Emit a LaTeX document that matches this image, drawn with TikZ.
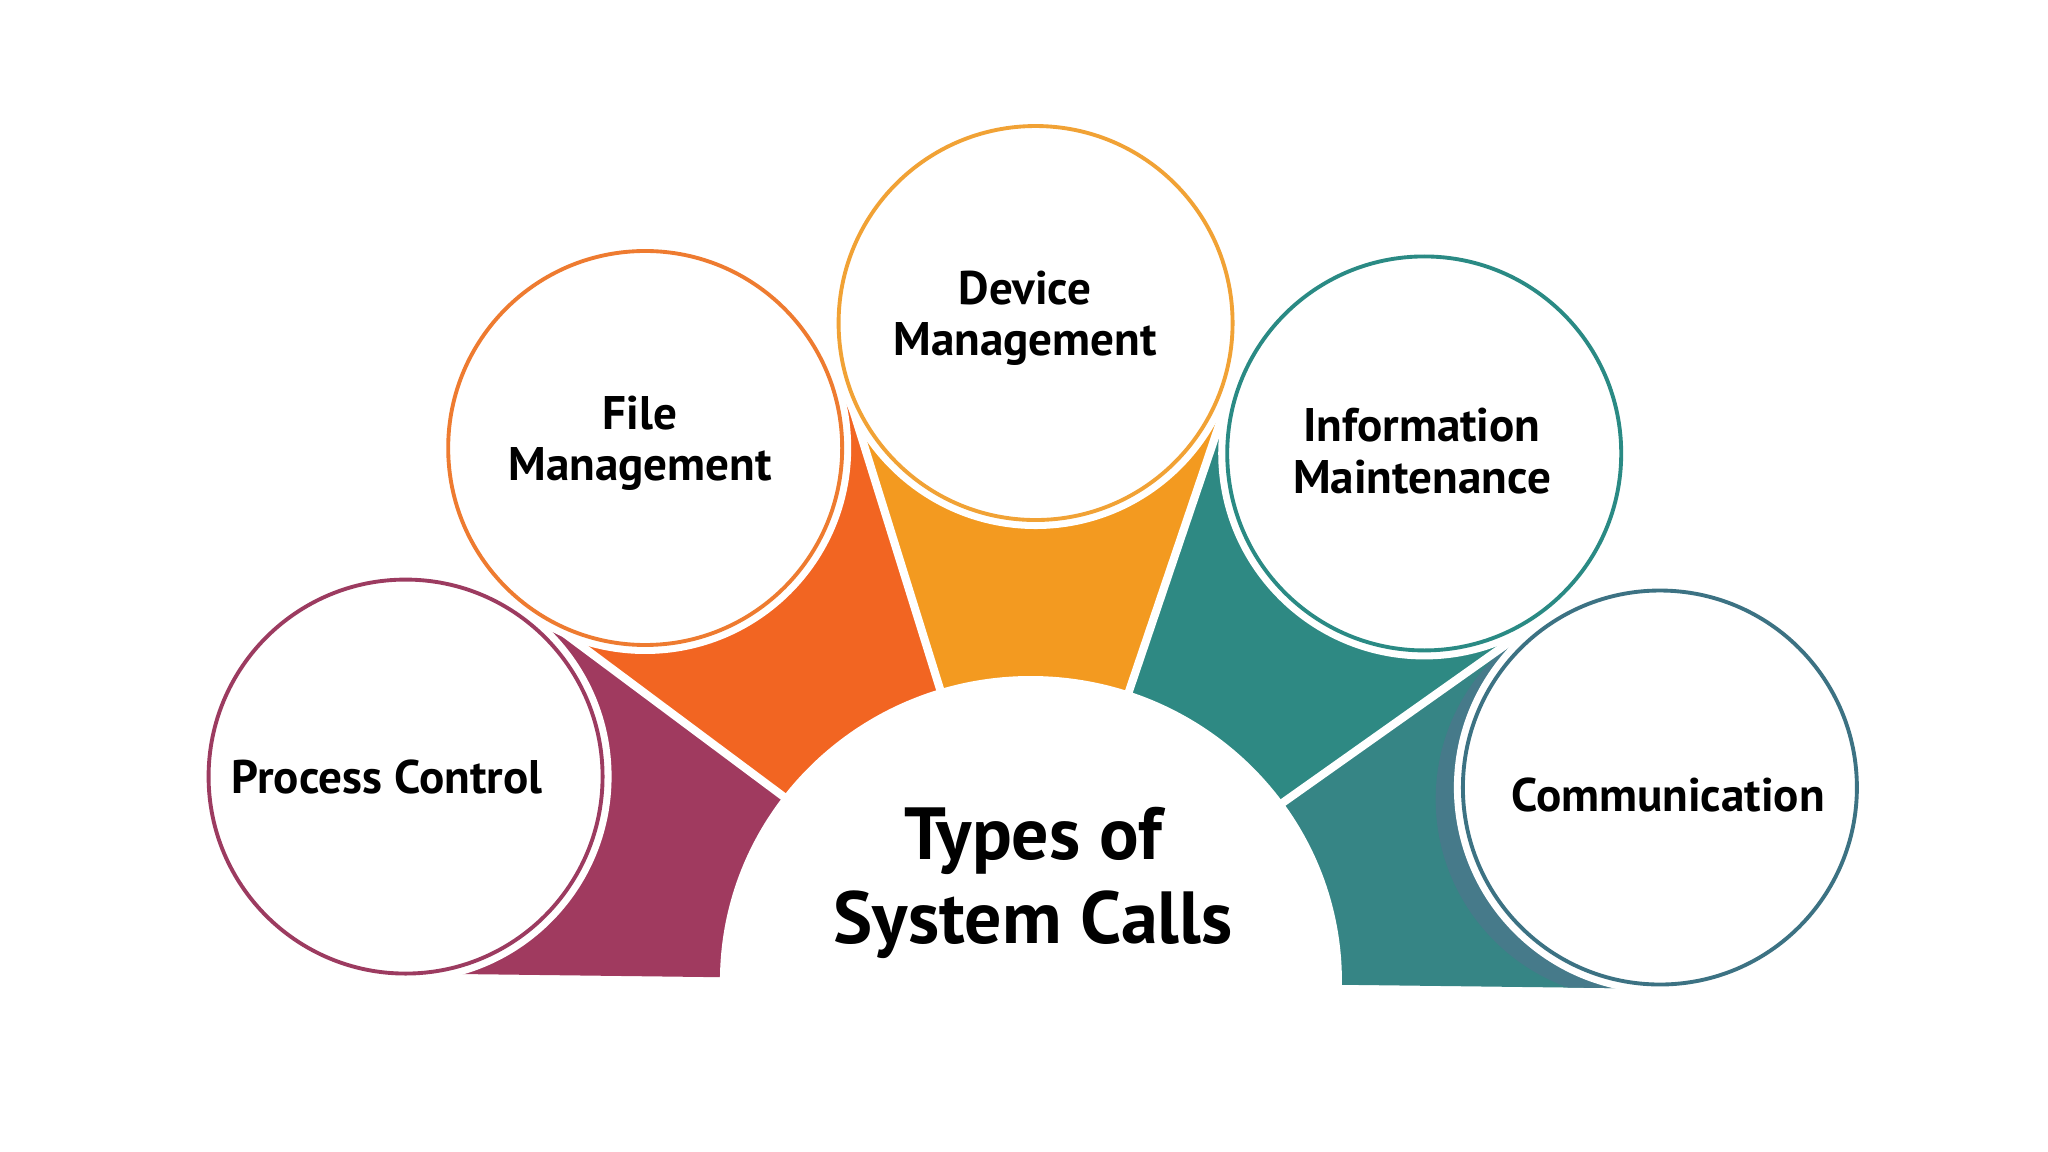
\documentclass[tikz,border=0pt]{standalone}
\usepackage{fontspec}
\setmainfont{PT Sans}
\definecolor{procS}{HTML}{A03A5F}
\definecolor{procL}{HTML}{9C3B60}
\definecolor{fileS}{HTML}{F26522}
\definecolor{fileL}{HTML}{EE7B30}
\definecolor{devS}{HTML}{F39A20}
\definecolor{devL}{HTML}{F1A235}
\definecolor{infoS}{HTML}{2E8983}
\definecolor{infoL}{HTML}{2A8A84}
\definecolor{commS}{HTML}{368585}
\definecolor{commShade}{HTML}{467A8A}
\definecolor{commL}{HTML}{3C7283}
\tikzset{
  lbl/.style={font=\fontsize{13.4}{14.6}\selectfont\bfseries, align=center, text=black},
  ttl/.style={font=\fontsize{21}{23.8}\selectfont\bfseries, align=center, text=black},
  sepline/.style={white, line width=2.3pt},
  ring/.style={line width=1.1pt, fill=white}
}
\begin{document}
\begin{tikzpicture}[x=0.01cm,y=0.01cm]
\useasboundingbox (0,0) rectangle (2048,1152);
\fill[white] (0,0) rectangle (2048,1152);
\coordinate (C) at (1031,171);
\path (C) ++(161.9:658) coordinate (cPC);
\path (C) ++(125.9:658) coordinate (cFM);
\path (C) ++(89.6:658) coordinate (cDM);
\path (C) ++(53.3:658) coordinate (cIM);
\path (C) ++(17.1:658) coordinate (cCM);
\begin{scope}[rotate around={-0.7:(C)}]
  % coloured wedges
  \foreach \a/\col in {0/commS,36/infoS,72/devS,108/fileS,144/procS}
    \fill[\col] (C) -- ++(\a:630) arc[start angle=\a, end angle=\a+36, radius=630] -- cycle;
  % shadow on communication wedge
  \begin{scope}
    \clip (C) -- ++(0:630) arc[start angle=0, end angle=36, radius=630] -- cycle;
    \fill[commShade] (cCM) ++(-24,-12) circle[radius=200];
  \end{scope}
  % white separators
  \foreach \a in {36,72,108,144}
    \draw[sepline] (C) -- ++(\a:650);
  % central half disc (extended a little below the base to hide seams)
  \fill[white] (C) ++(311,-4) -- ++(0,4) arc[start angle=0, end angle=180, x radius=311, y radius=305] -- ++(0,-4) -- cycle;
\end{scope}
% circles: white rings first, then outlines
\foreach \n in {cPC,cFM,cDM,cIM,cCM}
  \fill[white] (\n) circle[radius=206];
\foreach \n/\col in {cPC/procL,cFM/fileL,cDM/devL,cIM/infoL,cCM/commL}
  \draw[ring, draw=\col] (\n) circle[radius=197];
% labels
\node[lbl] (tPC) at (387,375) {Process Control};
\node[lbl] (tFM) at (640,709) {File\\Management};
\node[lbl] (tDM) at (1025,834) {Device\\Management};
\node[lbl] (tIM) at (1422,701) {Information\\Maintenance};
\node[lbl] (tCM) at (1668,357) {Communication};
\node[ttl] (title) at (1033,269) {Types of\\System Calls};
\end{tikzpicture}
\end{document}
